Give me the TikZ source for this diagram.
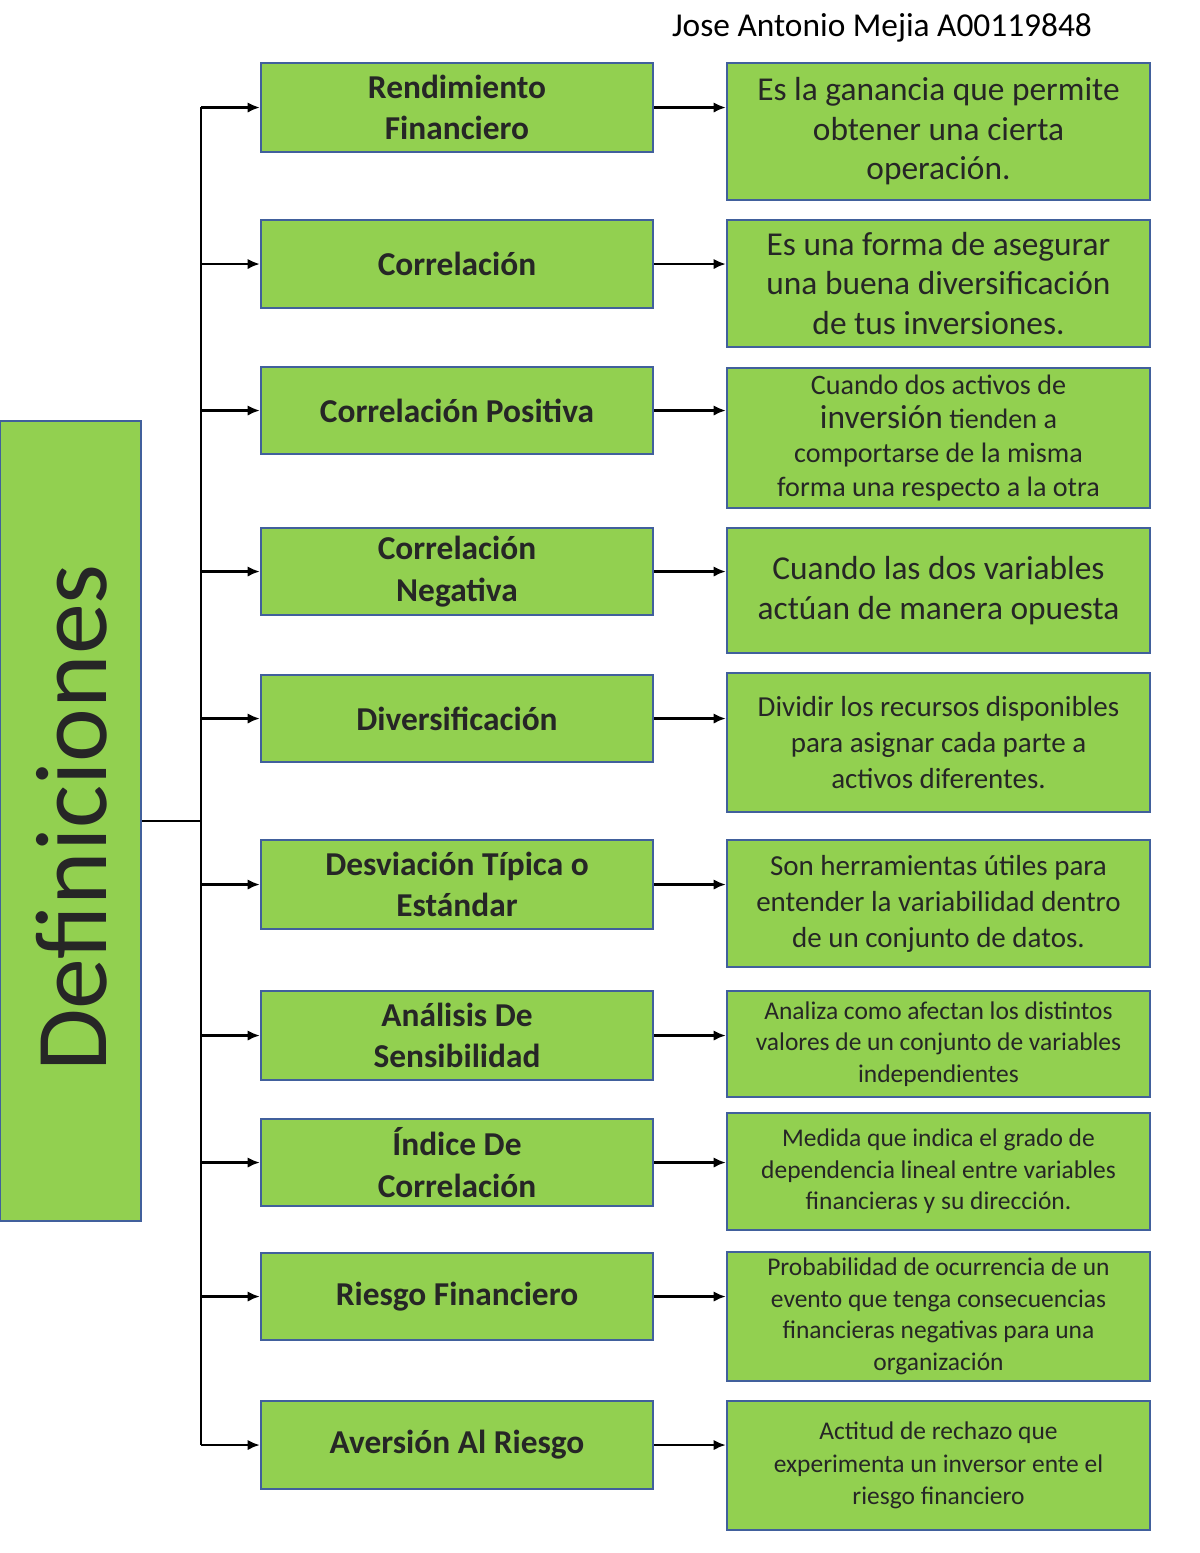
\documentclass[tikz,border=0pt]{standalone}
\usepackage{fontspec}
\setmainfont{Carlito}
\usetikzlibrary{arrows.meta}
\definecolor{gr}{HTML}{92D050}
\definecolor{bd}{HTML}{41609C}
\definecolor{tx}{HTML}{262626}
\begin{document}
\begin{tikzpicture}[x=0.02cm,y=-0.02cm,
  box/.style={draw=bd,fill=gr,line width=1.3pt,inner sep=0,align=center,text=tx},
  mid/.style={box,font=\fontsize{19}{23.5}\selectfont\bfseries},
  ln/.style={line width=1.6pt},
  arr/.style={ln,-{Latex[length=7pt,width=6pt]}}]
\useasboundingbox (0,0) rectangle (1200,1553);
\node[text=black,font=\fontsize{19}{23}\selectfont] (auth) at (882,28) {Jose Antonio Mejia A00119848};
\node[box,minimum width=141*0.02cm,minimum height=800*0.02cm] (big) at (70.5,821) {};
\node[rotate=90,font=\fontsize{58}{60}\selectfont,text=tx] (bt) at (72,818) {Definiciones};
% middle boxes
\foreach \n/\a/\b/\t in {1/63/152/{Rendimiento\\Financiero},2/220/308/{Correlación},3/367/454/{Correlación Positiva},4/528/615/{Correlación\\Negativa},5/675/762/{Diversificación},6/840/929/{Desviación Típica o\\Estándar},7/991/1080/{Análisis De\\Sensibilidad},8/1119/1206/{Índice De\\Correlación},9/1253/1340/{Riesgo Financiero},10/1401/1489/{Aversión Al Riesgo}}{
  \node[mid,minimum width=392*0.02cm,minimum height={(\b-\a)*0.02cm}] (m\n) at (457,{(\a+\b)/2}) {\t};
}
% right boxes
\foreach \n/\a/\b/\fs/\bs/\t in {1/63/200/19/22.5/{Es la ganancia que permite\\obtener una cierta\\operación.},2/220/347/19/22.5/{Es una forma de asegurar\\una buena diversificación\\de tus inversiones.},3/368/508/16/19.5/{Cuando dos activos de\\{\fontsize{19}{20}\selectfont inversión} tienden a\\comportarse de la misma\\forma una respecto a la otra},4/528/653/19/22.5/{Cuando las dos variables\\actúan de manera opuesta},5/673/812/16.5/20.5/{Dividir los recursos disponibles\\para asignar cada parte a\\activos diferentes.},6/840/967/16.5/20.5/{Son herramientas útiles para\\entender la variabilidad dentro\\de un conjunto de datos.},7/991/1097/14.5/18/{Analiza como afectan los distintos\\valores de un conjunto de variables\\independientes},8/1113/1230/14.5/18/{Medida que indica el grado de\\dependencia lineal entre variables\\financieras y su dirección.},9/1252/1381/14.5/18/{Probabilidad de ocurrencia de un\\evento que tenga consecuencias\\financieras negativas para una\\organización},10/1401/1530/14.5/18.5/{Actitud de rechazo que\\experimenta un inversor ente el\\riesgo financiero}}{
  \node[box,font=\fontsize{\fs}{\bs}\selectfont,minimum width=423*0.02cm,minimum height={(\b-\a)*0.02cm}] (r\n) at (938.5,{(\a+\b)/2}) {\t};
  \draw[arr] (m\n.east) -- (m\n.east -| r\n.west);
}
\coordinate (tt) at (201,107);
\coordinate (tb) at (201,1445);
\draw[ln] (tt) -- (tb);
\draw[ln] (big.east) -- (big.east -| tt);
\foreach \n in {1,...,10}{
  \draw[arr] (m\n.west -| tt) -- (m\n.west);
}
\end{tikzpicture}
\end{document}
